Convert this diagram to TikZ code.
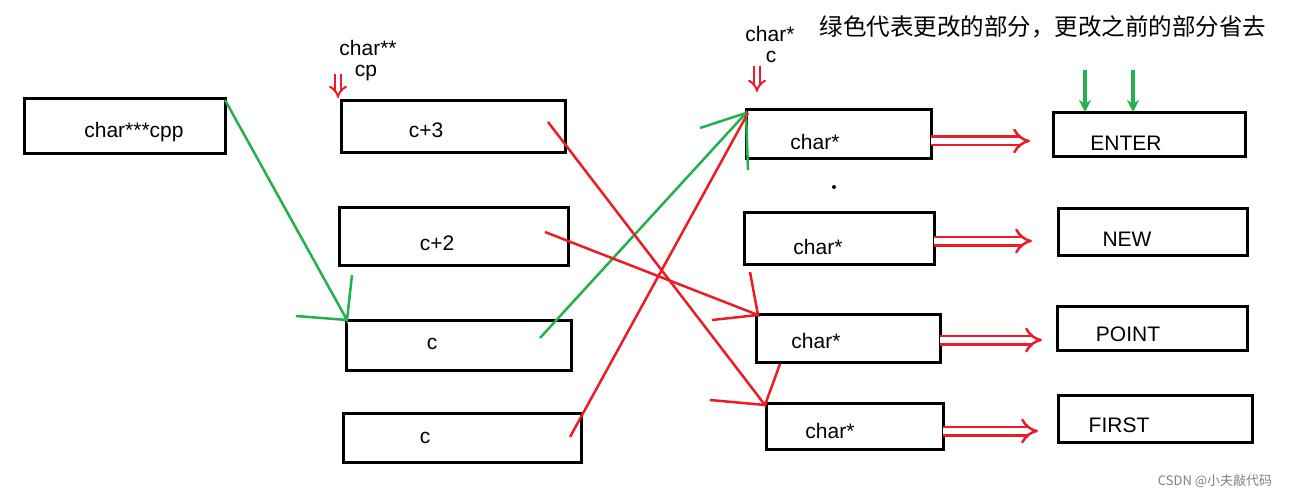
\documentclass[tikz,border=0pt]{standalone}
\usepackage{fontspec}
\setmainfont{Liberation Sans}
\newfontfamily\cjk{Noto Sans CJK SC}
\usetikzlibrary{arrows.meta}
\definecolor{myred}{RGB}{237,28,36}
\definecolor{mygreen}{RGB}{34,177,76}
\begin{document}
\begin{tikzpicture}[x=1pt,y=-1pt,
  bx/.style={draw=black,line width=3pt},
  lbl/.style={font=\fontsize{21}{24}\selectfont},
  rl/.style={draw=myred,line width=2.5pt},
  gl/.style={draw=mygreen,line width=2.5pt},
  dbl/.style={draw=myred,line width=2.5pt,double=white,double distance=6pt,-{Implies[length=18pt]}}]
\useasboundingbox (0,0) rectangle (1312,500);
% boxes
\draw[bx] (24,99) rectangle (225,154); \node[lbl] (cpp) at (134,132) {char***cpp};
\draw[bx] (341,101) rectangle (565,153); \node[lbl] (p3) at (426,130) {c+3};
\draw[bx] (339,207) rectangle (568,265); \node[lbl] (p2) at (437,243) {c+2};
\draw[bx] (346,320) rectangle (571,370); \node[lbl] (p1) at (432,344) {c};
\draw[bx] (343,413) rectangle (581,462); \node[lbl] (p0) at (425,438) {c};
\draw[bx] (746,110) rectangle (931,159); \node[lbl] (s1) at (815,142) {char*};
\draw[bx] (744,212) rectangle (934,264); \node[lbl] (s2) at (818,247) {char*};
\draw[bx] (756,314) rectangle (940,362); \node[lbl] (s3) at (816,341) {char*};
\draw[bx] (766,403) rectangle (943,449); \node[lbl] (s4) at (830,431) {char*};
\draw[bx] (1053,113) rectangle (1245,157); \node[lbl] (e1) at (1126,143) {ENTER};
\draw[bx] (1058,208) rectangle (1247,255); \node[lbl] (e2) at (1127,239) {NEW};
\draw[bx] (1057,306) rectangle (1247,350); \node[lbl] (e3) at (1128,334) {POINT};
\draw[bx] (1058,395) rectangle (1252,442); \node[lbl] (e4) at (1119,425) {FIRST};
% double arrows
\draw[dbl] (931,141) -- (1030,141);
\draw[dbl] (934,241) -- (1032,241);
\draw[dbl] (940,340) -- (1042,340);
\draw[dbl] (943,431) -- (1038,431);
% labels
\node[lbl,inner sep=0pt] (l1) at (368,48) {char**};
\node[lbl,inner sep=0pt] (l2) at (366,73) {cp};
\node[lbl,inner sep=0pt] (l3) at (770,34) {char*};
\node[lbl,inner sep=0pt] (l4) at (771,57) {c};
\node[font=\cjk\fontsize{23.5}{26}\selectfont] (note) at (1043,27) {绿色代表更改的部分，更改之前的部分省去};
\node[font=\cjk\fontsize{13}{16}\selectfont,text=gray] (wm) at (1215,481) {CSDN @小夫敲代码};
\fill (834,187) circle (2pt);
% small down arrows
\draw[draw=myred,line width=2pt,double=white,double distance=4pt,-{Implies[length=10pt]}] (338,74) -- (338,98);
\draw[draw=myred,line width=2pt,double=white,double distance=4pt,-{Implies[length=10pt]}] (757,66) -- (757,92);
\draw[draw=mygreen,line width=3.5pt,-{Stealth[length=12pt,width=12pt]}] (1085,70) -- (1085,112);
\draw[draw=mygreen,line width=3.5pt,-{Stealth[length=12pt,width=12pt]}] (1133,70) -- (1133,112);
% green connectors
\draw[gl] (225,100) -- (347,320) -- (352,275) (347,320) -- (296,316);
\draw[gl] (540,338) -- (746,113) -- (748,170) (746,113) -- (700,128);
% red connectors
\draw[rl] (548,122) -- (765,405) -- (780,364) (765,405) -- (710,400);
\draw[rl] (545,232) -- (758,315) -- (750,272) (758,315) -- (712,320);
\draw[rl] (570,437) -- (748,113);
\end{tikzpicture}
\end{document}
